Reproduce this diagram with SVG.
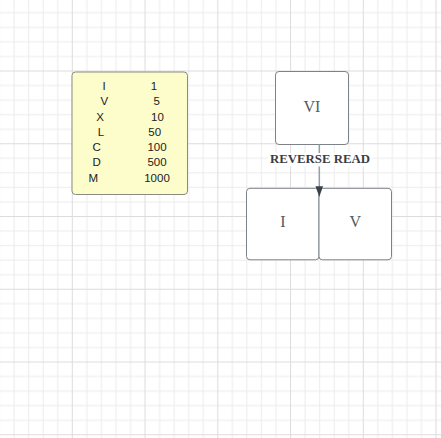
<svg xmlns="http://www.w3.org/2000/svg" width="441" height="438" viewBox="0 0 441 438">
  <defs>
    <pattern id="grid" patternUnits="userSpaceOnUse" x="-0.95" y="-2.25" width="72.75" height="72.75">
      <g stroke="#ebebeb" stroke-width="1">
        <line x1="15.05" y1="0" x2="15.05" y2="72.75"/>
        <line x1="29.6" y1="0" x2="29.6" y2="72.75"/>
        <line x1="44.15" y1="0" x2="44.15" y2="72.75"/>
        <line x1="58.7" y1="0" x2="58.7" y2="72.75"/>
        <line x1="0" y1="15.05" x2="72.75" y2="15.05"/>
        <line x1="0" y1="29.6" x2="72.75" y2="29.6"/>
        <line x1="0" y1="44.15" x2="72.75" y2="44.15"/>
        <line x1="0" y1="58.7" x2="72.75" y2="58.7"/>
      </g>
      <g stroke="#dcdcdc" stroke-width="1">
        <line x1="0.5" y1="0" x2="0.5" y2="72.75"/>
        <line x1="0" y1="0.5" x2="72.75" y2="0.5"/>
      </g>
    </pattern>
    <marker id="arrow" markerUnits="userSpaceOnUse" markerWidth="12" markerHeight="10" refX="10.5" refY="4" orient="auto" viewBox="0 0 12 8">
      <path d="M0,0.2 L10.5,4 L0,7.8 Z" fill="#3a414a"/>
    </marker>
    <style>
      .box { fill: #ffffff; stroke: #7d8289; stroke-width: 1; }
      .note { fill: #fdfccb; stroke: #8a8a80; stroke-width: 1; }
      .roman { font-family: "Liberation Serif", "Times New Roman", serif; font-size: 16px; fill: #555a60; text-anchor: middle; }
      .tbl { font-family: "Liberation Sans", Arial, sans-serif; font-size: 11.5px; fill: #222222; text-anchor: middle; }
      .lbl { font-family: "Liberation Serif", "Times New Roman", serif; font-size: 12.8px; font-weight: bold; fill: #3a3d42; text-anchor: middle; }
    </style>
  </defs>

  <rect x="0" y="0" width="441" height="438" fill="#ffffff"/>
  <rect x="0" y="0" width="441" height="438" fill="url(#grid)"/>

  <g id="table-note">
    <rect class="note" x="72" y="72" width="115.5" height="122.5" rx="3.5"/>
    <text class="tbl" x="104" y="89.8">I</text>
    <text class="tbl" x="154" y="89.8">1</text>
    <text class="tbl" x="104.3" y="105">V</text>
    <text class="tbl" x="156.7" y="105">5</text>
    <text class="tbl" x="100" y="120.5">X</text>
    <text class="tbl" x="157.5" y="120.5">10</text>
    <text class="tbl" x="101" y="135.5">L</text>
    <text class="tbl" x="154.7" y="135.5">50</text>
    <text class="tbl" x="96.7" y="150.7">C</text>
    <text class="tbl" x="157" y="150.7">100</text>
    <text class="tbl" x="96.7" y="165.8">D</text>
    <text class="tbl" x="157" y="165.8">500</text>
    <text class="tbl" x="93.3" y="181.6">M</text>
    <text class="tbl" x="157" y="181.6">1000</text>
  </g>

  <g id="node-VI">
    <rect class="box" x="275.5" y="71.5" width="73" height="73" rx="3.5"/>
    <text class="roman" x="312" y="111.5">VI</text>
  </g>

  <g id="node-I">
    <rect class="box" x="246.5" y="188.3" width="72.5" height="71.5" rx="3.5"/>
    <text class="roman" x="282.8" y="227.3">I</text>
  </g>

  <g id="node-V">
    <rect class="box" x="319" y="188.3" width="72.5" height="71.5" rx="3.5"/>
    <text class="roman" x="355.3" y="227.3">V</text>
  </g>

  <g id="connectors">
    <line x1="319.3" y1="144.5" x2="319.3" y2="196.7" stroke="#9a9ea4" stroke-width="1.5" marker-end="url(#arrow)"/>
    <rect x="268" y="153" width="104" height="13.5" fill="#ffffff"/>
    <text class="lbl" x="320" y="163.4">REVERSE READ</text>
  </g>
</svg>
